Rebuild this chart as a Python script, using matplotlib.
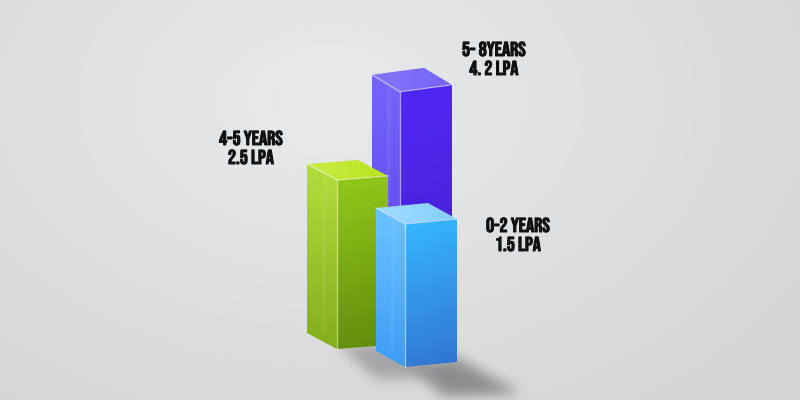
import numpy as np
import matplotlib
matplotlib.use('Agg')
from matplotlib import pyplot as plt
from matplotlib import font_manager as fm
from matplotlib import patheffects as pe
from matplotlib.patches import Polygon
from matplotlib.path import Path
from matplotlib.colors import to_rgb

# data
categories = ['4-5 YEARS', '5- 8YEARS', '0-2 YEARS']
salary_lpa = [2.5, 4.2, 1.5]
salary_labels = ['2.5 LPA', '4. 2 LPA', '1.5 LPA']

# colours per box: top, left face (top/bottom), front face (top/bottom)
top_cols = [('#c8ec48', '#b8e41c'), ('#8676fc', '#7464f8'), ('#a0dcff', '#86ceff')]
left_cols = [('#b0da3a', '#84ac1c'), ('#7462fa', '#5a44e8'), ('#66c0ff', '#3c9cf6')]
front_cols = [('#92c81a', '#628c0c'), ('#5028f4', '#4620d0'), ('#36b6fe', '#3276d2')]

# layout (pixel space, y downward)
W, H = 800, 400
base_h, px_per_lpa = 104, 26          # box height = base_h + px_per_lpa * value
anchors = [(337, 349), (400, 305), (405, 367)]   # front bottom corner of each box
widths = [(51, -4), (52, -7), (52, -5)]
depths = [(-30, -16), (-28, -17), (-29, -16)]
label_pos = [(251, 145), (494, 56), (518, 232)]  # baseline of first label line
line_gap = 19
draw_order = [1, 0, 2]

installed = set(f.name for f in fm.fontManager.ttflist)
wanted = ['Bebas Neue', 'Oswald', 'Roboto Condensed', 'Liberation Sans Narrow', 'DejaVu Sans']
label_font = [f for f in wanted if f in installed] or ['DejaVu Sans']

fig = plt.figure(figsize=(8, 4), dpi=100)
ax = fig.add_axes([0, 0, 1, 1])
ax.set_xlim(0, W)
ax.set_ylim(H, 0)
ax.axis('off')

# background: soft radial grey
yy, xx = np.mgrid[0:H, 0:W]
r = np.sqrt(((xx - 330) / 560.0) ** 2 + ((yy - 100) / 380.0) ** 2)
c0 = np.array(to_rgb('#e9eaeb'))
c1 = np.array(to_rgb('#d4d6d8'))
t = np.clip(r, 0, 1)[..., None]
ax.imshow(c0 * (1 - t) + c1 * t, extent=(0, W, H, 0), origin='upper', zorder=0)


def blur(a, n):
    k = np.ones(n) / n
    for _ in range(3):
        a = np.apply_along_axis(lambda v: np.convolve(v, k, mode='same'), 0, a)
        a = np.apply_along_axis(lambda v: np.convolve(v, k, mode='same'), 1, a)
    return a


def grad_face(pts, ca, cb, p_a, p_b, z):
    pts = np.array(pts, dtype=float)
    x0, y0 = pts.min(axis=0)
    x1, y1 = pts.max(axis=0)
    gy, gx = np.mgrid[y0:y1:complex(0, int(y1 - y0) + 2), x0:x1:complex(0, int(x1 - x0) + 2)]
    d = np.array(p_b, float) - np.array(p_a, float)
    tt = ((gx - p_a[0]) * d[0] + (gy - p_a[1]) * d[1]) / (d @ d)
    tt = np.clip(tt, 0, 1)[..., None]
    img = np.array(to_rgb(ca)) * (1 - tt) + np.array(to_rgb(cb)) * tt
    im = ax.imshow(img, extent=(x0, x1, y1, y0), origin='upper', zorder=z, interpolation='bilinear')
    poly = Polygon(pts, closed=True, facecolor='none', edgecolor='none')
    ax.add_patch(poly)
    im.set_clip_path(poly)


def box_faces(i):
    fx, fy = anchors[i]
    wx, wy = widths[i]
    dx, dy = depths[i]
    h = base_h + px_per_lpa * salary_lpa[i]
    front = [(fx, fy), (fx + wx, fy + wy), (fx + wx, fy + wy - h), (fx, fy - h)]
    left = [(fx, fy), (fx + dx, fy + dy), (fx + dx, fy + dy - h), (fx, fy - h)]
    top = [(fx, fy - h), (fx + wx, fy + wy - h), (fx + wx + dx, fy + wy + dy - h), (fx + dx, fy + dy - h)]
    return front, left, top, h


# soft shadow cast to the lower right of the front boxes
mask = np.zeros((H, W))
for i, strength in [(0, 0.7), (2, 1.0)]:
    fx, fy = anchors[i]
    wx, wy = widths[i]
    shp = [(fx, fy - 4), (fx + wx, fy + wy - 4), (fx + wx + 65, fy + wy + 32), (fx + 40, fy + 30)]
    inside = Path(shp).contains_points(np.c_[xx.ravel() + 0.5, yy.ravel() + 0.5]).reshape(H, W)
    mask = np.maximum(mask, strength * inside.astype(float))
mask = blur(mask, 13)
shadow = np.zeros((H, W, 4))
shadow[..., :3] = 0.25
shadow[..., 3] = 0.5 * mask
ax.imshow(shadow, extent=(0, W, H, 0), origin='upper', zorder=1)

for k, i in enumerate(draw_order):
    front, left, top, h = box_faces(i)
    z = 2 + k * 5
    fx, fy = anchors[i]
    # left face: light top -> darker bottom
    grad_face(left, left_cols[i][0], left_cols[i][1], left[3], left[0], z)
    # front face: diagonal
    grad_face(front, front_cols[i][0], front_cols[i][1], front[3], front[1], z)
    # top face
    grad_face(top, top_cols[i][0], top_cols[i][1], top[3], top[1], z)
    # soft highlight streak on left face
    sx = fx + depths[i][0] * 0.45
    streak = [(sx, fy + depths[i][1] * 0.45 - h + 4), (sx + 4, fy + depths[i][1] * 0.4 - h + 4),
              (sx + 2, fy + depths[i][1] * 0.4 - 10), (sx - 2, fy + depths[i][1] * 0.45 - 10)]
    ax.add_patch(Polygon(streak, closed=True, facecolor='white', alpha=0.06, edgecolor='none', zorder=z + 1))
    # glossy edges
    ax.plot([front[0][0], front[3][0]], [front[0][1], front[3][1]], color='white', alpha=0.55, lw=0.9, zorder=z + 2)
    ax.plot([top[3][0], top[0][0], top[1][0]], [top[3][1], top[0][1], top[1][1]],
            color='white', alpha=0.45, lw=0.9, zorder=z + 2)

bold = [pe.withStroke(linewidth=0.7, foreground='#111111')]
for i in range(len(categories)):
    x, y = label_pos[i]
    for j, line in enumerate([categories[i], salary_labels[i]]):
        ax.text(x, y + j * line_gap, line, ha='center', va='baseline',
                fontsize=14.5, fontweight='bold', family=label_font,
                color='#111111', zorder=30, path_effects=bold)

fig.savefig('out.png', dpi=100)
